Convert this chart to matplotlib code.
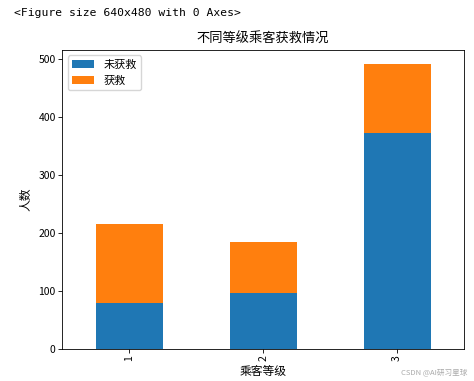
import matplotlib.pyplot as plt
import numpy as np
import pandas as pd

plt.rcParams['font.family'] = ['Noto Sans CJK SC', 'DejaVu Sans']
plt.rcParams['axes.unicode_minus'] = False

# Titanic survivors by passenger class
pclass = [1, 2, 3]
not_survived = [80, 97, 372]
survived = [136, 87, 119]

df = pd.DataFrame({'未获救': not_survived, '获救': survived}, index=pclass)

fig = plt.figure(figsize=(4.74, 3.81), dpi=100)
ax = fig.add_axes([0.131, 0.084, 0.848, 0.785])
df.plot(kind='bar', stacked=True, ax=ax, color=['#1f77b4', '#ff7f0e'], width=0.5)

ax.set_title('不同等级乘客获救情况', fontsize=9.5, pad=5)
ax.set_xlabel('乘客等级', fontsize=8.5)
ax.xaxis.set_label_coords(0.5, -0.052)
ax.set_ylabel('人数', fontsize=8.5)
ax.tick_params(labelsize=7.5, length=2.6, width=0.6, pad=2)
for s in ax.spines.values():
    s.set_linewidth(0.6)
ax.legend(fontsize=8, loc='upper left', handlelength=2, borderpad=0.4)

fig.text(0.03, 0.98, '<Figure size 640x480 with 0 Axes>', family='DejaVu Sans Mono',
         fontsize=8.2, va='top', ha='left')
fig.text(0.985, 0.012, 'CSDN @AI研习星球', fontsize=5.5, color='#aaaaaa',
         ha='right', va='bottom')

fig.savefig('out.png', dpi=100)
